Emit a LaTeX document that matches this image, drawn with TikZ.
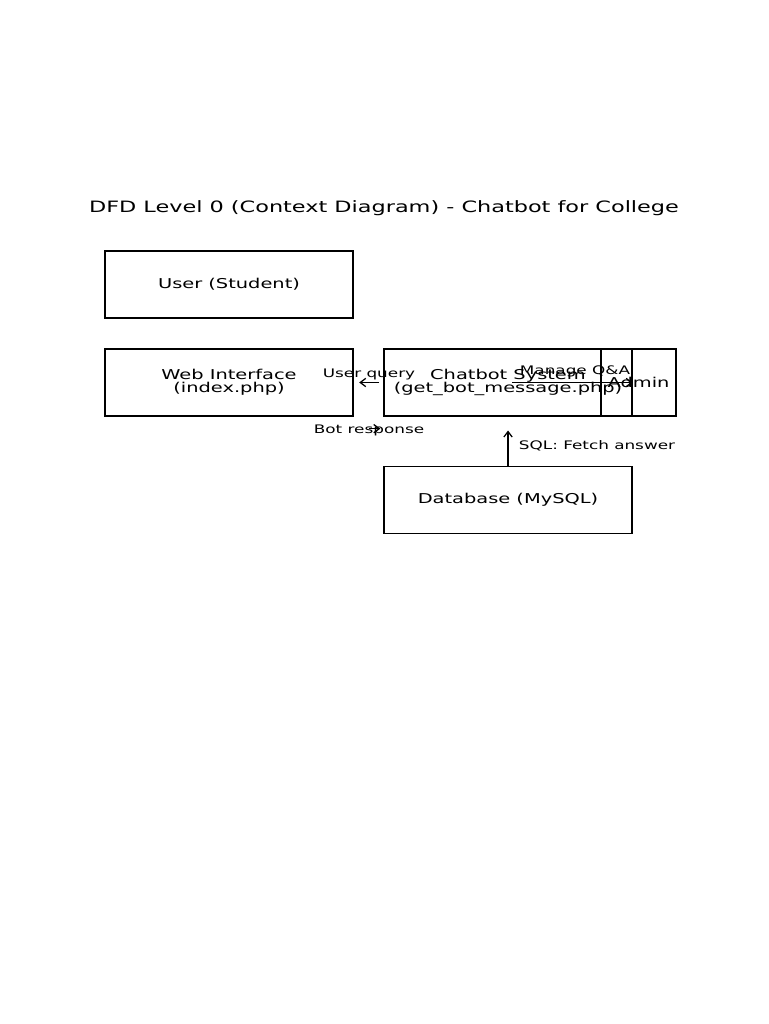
\documentclass[tikz,border=0pt]{standalone}
\usepackage{fontspec}
\setmainfont[FakeStretch=1.43]{DejaVu Sans}
\usetikzlibrary{arrows.meta,positioning,calc}

\begin{document}
\begin{tikzpicture}[
  x=0.01in, y=-0.01in,
  font=\fontsize{9.8}{9.6}\selectfont,
  blk/.style ={draw, line width=0.9pt, inner sep=0pt, align=center,
               minimum width=2.48in, minimum height=0.67in},
  side/.style={blk, minimum width=0.75in},
  fl/.style  ={-{Straight Barb[length=4pt,width=6pt]}, line width=0.9pt},
  lab/.style ={font=\fontsize{8.5}{8.5}\selectfont, inner sep=1pt}]

\path[use as bounding box, fill=white] (0,0) rectangle (768,1024);

\node[font=\fontsize{11.3}{11.3}\selectfont] (ttl) at (384,208)
  {DFD Level 0 (Context Diagram) - Chatbot for College};

\node[blk] (usr)  at (229,284.5) {User (Student)};
\node[blk] (web)  at (229,382.5) {Web Interface\\(index.php)};
\node[blk] (chat) at (508,382.5) {Chatbot System\\(get\_bot\_message.php)};
\node[side] (adm) at (638.5,382.5) {Admin};
\node[blk] (db)   at (508,500) {Database (MySQL)};

\coordinate (brA) at ($(web.south east)+(15,12)$);
\coordinate (brB) at ($(chat.south west)+(-3,12)$);

\draw[fl, shorten <=3pt, shorten >=4pt] (chat.west) -- (web.east);
\draw[fl] (brA) -- (brB);
\draw[fl, shorten <=3pt] (chat.center) -- (chat.east);
\draw[fl, shorten >=10pt] (db.north) -- (chat.south);

\node[lab] (uq)  at (369,374) {User query};
\node[lab] (br)  at (369,430) {Bot response};
\node[lab] (mqa) at (575,371) {Manage Q\&A};
\node[lab] (sql) at (597,446) {SQL: Fetch answer};
\end{tikzpicture}
\end{document}
